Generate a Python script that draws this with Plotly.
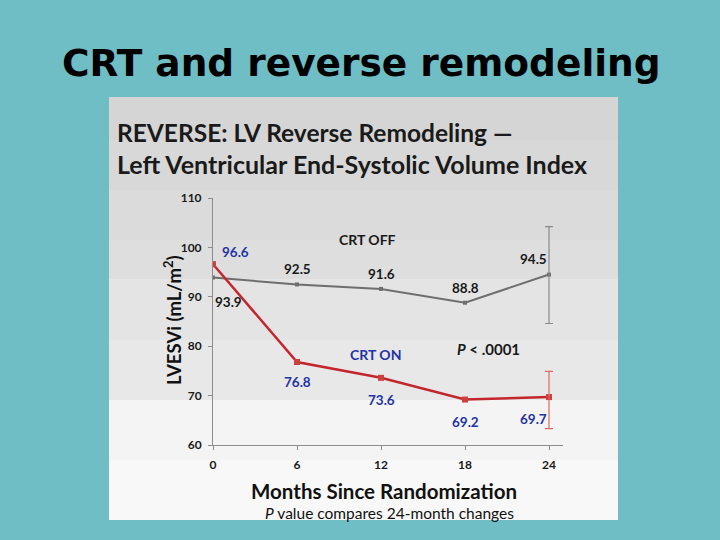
import plotly.graph_objects as go

months = [0, 6, 12, 18, 24]
crt_off = [93.9, 92.5, 91.6, 88.8, 94.5]
crt_on = [96.6, 76.8, 73.6, 69.2, 69.7]
off_err_up, off_err_down = [9.7], [9.9]
on_err_up, on_err_down = [5.2], [6.4]
y_ticks = [60, 70, 80, 90, 100, 110]

GRAY = "#6e6e6e"
RED = "#c4262e"
BLUE = "#2433a6"
FONT = "Lato"

fig = go.Figure()

# CRT OFF line
fig.add_trace(go.Scatter(
    x=months, y=crt_off, mode="lines+markers",
    line=dict(color=GRAY, width=2),
    marker=dict(symbol="square", size=4, color=GRAY),
    showlegend=False, hoverinfo="skip"))
# CRT ON line
fig.add_trace(go.Scatter(
    x=months, y=crt_on, mode="lines+markers",
    line=dict(color=RED, width=2.5),
    marker=dict(symbol="square", size=6, color="#cc4040"),
    showlegend=False, hoverinfo="skip"))

# error bars at 24 months
fig.add_trace(go.Scatter(
    x=months[-1:], y=crt_off[-1:], mode="markers",
    marker=dict(size=1, color=GRAY),
    error_y=dict(type="data", symmetric=False, array=off_err_up,
                 arrayminus=off_err_down, color="#8a8a8a", thickness=1.2, width=4),
    showlegend=False, hoverinfo="skip"))
fig.add_trace(go.Scatter(
    x=months[-1:], y=crt_on[-1:], mode="markers",
    marker=dict(size=1, color=RED),
    error_y=dict(type="data", symmetric=False, array=on_err_up,
                 arrayminus=on_err_down, color="#e06a60", thickness=1.2, width=4),
    showlegend=False, hoverinfo="skip"))

# value labels (offsets in pixels)
off_shift = [(15, 24), (0, -15), (0, -15), (0, -15), (-16, -16)]
on_shift = [(22, -12), (0, 20), (0, 22), (0, 22), (-16, 22)]
for m, v, (dx, dy) in zip(months, crt_off, off_shift):
    fig.add_annotation(x=m, y=v, text=f"<b>{v}</b>", showarrow=False,
                       xshift=dx, yshift=-dy,
                       font=dict(family=FONT, size=13.5, color="#1a1a1a"))
for m, v, (dx, dy) in zip(months, crt_on, on_shift):
    fig.add_annotation(x=m, y=v, text=f"<b>{v}</b>", showarrow=False,
                       xshift=dx, yshift=-dy,
                       font=dict(family=FONT, size=13.5, color=BLUE))

fig.add_annotation(x=11.0, y=101.5, text="<b>CRT OFF</b>", showarrow=False,
                   font=dict(family=FONT, size=14, color="#1a1a1a"))
fig.add_annotation(x=11.6, y=78.3, text="<b>CRT ON</b>", showarrow=False,
                   font=dict(family=FONT, size=14, color=BLUE))
fig.add_annotation(x=19.7, y=79.4, text="<b><i>P</i> < .0001</b>", showarrow=False,
                   font=dict(family=FONT, size=15, color="#1a1a1a"))

# slide panel background (stepped gradient)
panel = [(97, 140, "#d5d5d5"), (140, 190, "#d8d8d8"), (190, 240, "#dbdbdb"),
         (240, 279, "#dedede"), (279, 340, "#e4e4e4"), (340, 400, "#e8e8e8"),
         (400, 460, "#f4f4f4"), (460, 519, "#f8f8f8")]
for top, bot, col in panel:
    fig.add_shape(type="rect", xref="paper", yref="paper", layer="below",
                  x0=109 / 720, x1=618 / 720, y0=1 - (bot + 1) / 540, y1=1 - top / 540,
                  fillcolor=col, line_width=0)


def px_note(x, y, text, size, anchor="center", angle=0, color="#111111", family=FONT):
    fig.add_annotation(xref="paper", yref="paper", x=x / 720, y=1 - y / 540,
                       xanchor=anchor, yanchor="middle", text=text, textangle=angle,
                       showarrow=False, font=dict(family=family, size=size, color=color))


px_note(361, 63, "<b>CRT and reverse remodeling</b>", 37.5, color="#000000",
        family="Comic Sans MS, DejaVu Sans")
px_note(115, 133, "<b>REVERSE: LV Reverse Remodeling \u2014</b>", 24.5, anchor="left",
        color="#1a1a1a")
px_note(115, 164, "<b>Left Ventricular End-Systolic Volume Index</b>", 25, anchor="left",
        color="#1a1a1a")
px_note(384, 491, "<b>Months Since Randomization</b>", 20.5)
px_note(389, 513, "<i>P</i> value compares 24-month changes", 15.5)
px_note(172, 320, "<b>LVESVi (mL/m<sup>2</sup>)</b>", 18.5, angle=-90)

fig.update_xaxes(domain=[213 / 720, 563 / 720], range=[0, 25], tickvals=months,
                 ticktext=[f"<b>{m}</b>" for m in months],
                 showgrid=False, zeroline=False, showline=True, linecolor="#8c8c8c",
                 ticks="outside", ticklen=4, tickcolor="#8c8c8c", ticklabelstandoff=5,
                 tickfont=dict(family=FONT, size=12, color="#1a1a1a"))
fig.update_yaxes(domain=[1 - 445 / 540, 1 - 198 / 540], range=[60, 110], tickvals=y_ticks,
                 ticktext=[f"<b>{t}</b>" for t in y_ticks],
                 showgrid=False, zeroline=False, showline=True, linecolor="#8c8c8c",
                 ticks="outside", ticklen=4, tickcolor="#8c8c8c", ticklabelstandoff=4,
                 tickfont=dict(family=FONT, size=12, color="#1a1a1a"))

fig.update_layout(width=720, height=540,
                  margin=dict(l=0, r=0, t=0, b=0, pad=0, autoexpand=False),
                  paper_bgcolor="#6fbec6", plot_bgcolor="rgba(0,0,0,0)")

fig.write_html("out.html", config={"displayModeBar": False},
               post_script="document.body.style.margin='0';"
                           "document.documentElement.style.overflow='hidden';")
